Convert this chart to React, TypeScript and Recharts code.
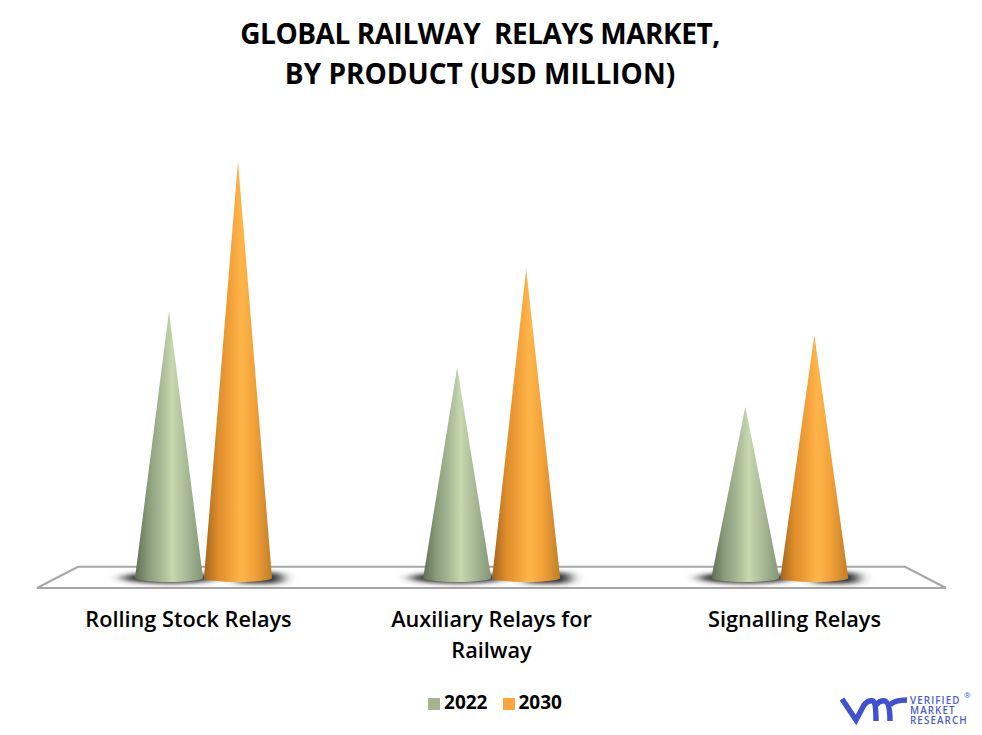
import React from 'react';
import { BarChart, Bar, XAxis, YAxis, Legend, ReferenceArea } from 'recharts';

const categories = ['Rolling Stock Relays', 'Auxiliary Relays for Railway', 'Signalling Relays'];
const categoryLines = [['Rolling Stock Relays'], ['Auxiliary Relays for', 'Railway'], ['Signalling Relays']];
const series2022 = [265, 209, 170];
const series2030 = [414, 307, 241];
const titleLines = ['GLOBAL RAILWAY  RELAYS MARKET,', 'BY PRODUCT (USD MILLION)'];
const data = categories.map((name, i) => ({ name, y2022: series2022[i], y2030: series2030[i] }));

const FONT = '"Open Sans", sans-serif';

const Cone = (props: any) => {
  const { x, y, width, height, grad, shadow } = props;
  const cx = x + width / 2;
  const base = y + height;
  const left = x + 0.5;
  const right = x + width - 0.5;
  return (
    <g>
      {shadow === 'full' && <ellipse cx={cx} cy={base} rx={width / 2 + 13} ry={5.5} fill="#2f2f2f" filter="url(#blur)" />}
      {shadow === 'right' && <path d={`M${cx},${base - 5.5} h${width / 2 + 6} q8,5.5 0,11 h-${width / 2 + 6} z`} fill="#2f2f2f" filter="url(#blur)" />}
      <path d={`M${cx},${y} L${right},${base} A${width / 2 - 0.5},4 0 0 1 ${left},${base} Z`} fill={`url(#${grad})`} />
    </g>
  );
};

const Floor = (props: any) => {
  const { x, y, width, height } = props;
  return (
    <path
      d={`M${x},${y + height} L${x + 41},${y} L${x + width - 41},${y} L${x + width},${y + height} Z`}
      fill="#fff"
      stroke="#a6a6a6"
      strokeWidth={2}
    />
  );
};

const CategoryTick = (props: any) => {
  const { x, y, index } = props;
  return (
    <text x={x} y={y + 1} textAnchor="middle" fontFamily={FONT} fontWeight={600} fontSize={21.7} fill="#000">
      {categoryLines[index].map((line, i) => (
        <tspan key={line} x={x} dy={i === 0 ? 0 : 31}>{line}</tspan>
      ))}
    </text>
  );
};

const Logo = () => (
  <svg style={{ position: 'absolute', left: 835, top: 688 }} width={140} height={42}>
    <path d="M7,11 L21,32 L29,17 Q33,12 38,13 Q41,15 41,33 M41,17 Q45,12 50,13 Q55,15 55,33 M55,17 Q59,12 72,12" fill="none" stroke="#3f51d0" strokeWidth={5.5} />
    <g fontFamily={FONT} fontSize={9.8} fontWeight={600} fill="#4a5bd4" letterSpacing={1.1}>
      <text x={75} y={16}>VERIFIED</text>
      <text x={75} y={26}>MARKET</text>
      <text x={75} y={36}>RESEARCH</text>
    </g>
    <text x={129} y={10} fontFamily={FONT} fontSize={8} fill="#4a5bd4">®</text>
  </svg>
);

export default function App() {
  return (
    <div style={{ position: 'absolute', left: 0, top: 0, width: 982, height: 735, background: '#fff', overflow: 'hidden' }}>
      <div style={{ position: 'absolute', left: 0, top: 13, width: 960, textAlign: 'center', fontFamily: FONT, fontWeight: 700, fontSize: 28, lineHeight: '40px', color: '#000', whiteSpace: 'pre' }}>
        {titleLines.map((t, i) => <div key={t} style={{ letterSpacing: i === 0 ? -0.45 : 0 }}>{t}</div>)}
      </div>
      <BarChart
        width={982}
        height={735}
        data={data}
        barSize={69}
        barGap={0}
        margin={{ top: 125, right: 36, left: 37, bottom: 20 }}
        style={{ position: 'absolute', left: 0, top: 0 }}
      >
        <defs>
          <linearGradient id="gGreen" x1="0" x2="1" y1="0" y2="0">
            <stop offset="0" stopColor="#5f6f55" />
            <stop offset="0.2" stopColor="#8c9d7c" />
            <stop offset="0.4" stopColor="#aabb98" />
            <stop offset="0.55" stopColor="#c6d8ae" />
            <stop offset="0.75" stopColor="#a9ba97" />
            <stop offset="1" stopColor="#849576" />
          </linearGradient>
          <linearGradient id="gOrange" x1="0" x2="1" y1="0" y2="0">
            <stop offset="0" stopColor="#a4651f" />
            <stop offset="0.2" stopColor="#dc8d2a" />
            <stop offset="0.4" stopColor="#f4a23b" />
            <stop offset="0.55" stopColor="#ffb54a" />
            <stop offset="0.75" stopColor="#f0a038" />
            <stop offset="1" stopColor="#c27d27" />
          </linearGradient>
          <filter id="blur" x="-40%" y="-200%" width="180%" height="500%">
            <feGaussianBlur stdDeviation="7 2" />
          </filter>
        </defs>
        <XAxis xAxisId="labels" dataKey="name" height={101} axisLine={false} tickLine={false} tick={<CategoryTick />} interval={0} />
        <XAxis xAxisId="bars" dataKey="name" hide padding={{ left: 22.5, right: 22 }} />
        <YAxis hide domain={[-10, 450]} />
        <ReferenceArea xAxisId="labels" y1={-10} y2={11} shape={<Floor />} ifOverflow="visible" />
        <Legend
          verticalAlign="bottom"
          iconType="square"
          iconSize={12}
          wrapperStyle={{ fontFamily: FONT, fontWeight: 700, fontSize: 19, paddingLeft: 11 }}
          formatter={(v: string) => <span style={{ color: '#000', marginRight: 5 }}>{v}</span>}
        />
        <Bar xAxisId="bars" name="2022" dataKey="y2022" fill="#a3b48f" isAnimationActive={false} shape={<Cone grad="gGreen" shadow="full" />} />
        <Bar xAxisId="bars" name="2030" dataKey="y2030" fill="#ffa53f" isAnimationActive={false} shape={<Cone grad="gOrange" shadow="right" />} />
      </BarChart>
      <Logo />
    </div>
  );
}
